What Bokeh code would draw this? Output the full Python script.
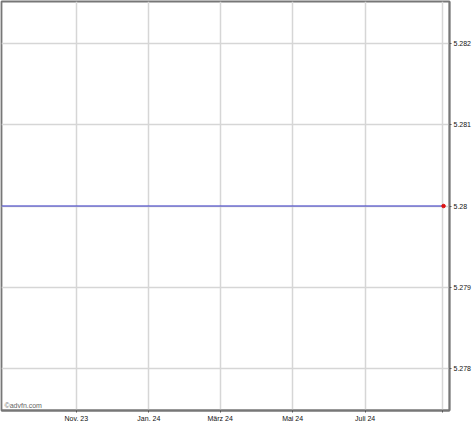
from datetime import datetime
from bokeh.plotting import figure
from bokeh.models import (Range1d, FixedTicker, LinearAxis, DatetimeAxis,
                          NumeralTickFormatter, Label, Grid)
from bokeh.embed import file_html
from bokeh.resources import INLINE

# ---- data ----
dates = ["2023-08-30", "2024-09-05"]
prices = [5.28, 5.28]
last_date = ["2024-09-05"]
last_price = [5.28]

x_tick_dates = ["2023-11-01", "2024-01-01", "2024-03-01", "2024-05-01",
                "2024-07-01", "2024-09-04"]
x_tick_labels = ["Nov. 23", "Jan. 24", "März 24", "Mai 24", "Juli 24", ""]
y_ticks = [5.278, 5.279, 5.28, 5.281, 5.282]


def ms(s):
    return int((datetime.strptime(s, "%Y-%m-%d") - datetime(1970, 1, 1)).total_seconds() * 1000)


xs = [datetime.strptime(d, "%Y-%m-%d") for d in dates]
lx = [datetime.strptime(d, "%Y-%m-%d") for d in last_date]
xticks = [ms(d) for d in x_tick_dates]

FONT = "Liberation Sans"

p = figure(width=474, height=424, output_backend="svg", toolbar_location=None,
           x_axis_type=None, y_axis_type=None,
           x_range=Range1d(datetime(2023, 8, 30), datetime(2024, 9, 10)),
           y_range=Range1d(5.27749, 5.28251),
           min_border_left=1, min_border_top=1, min_border_right=0, min_border_bottom=0)
p.background_fill_color = "white"
p.border_fill_color = "white"
p.outline_line_color = "#777777"
p.outline_line_width = 1.8

xaxis = DatetimeAxis(ticker=FixedTicker(ticks=xticks))
xaxis.major_label_overrides = {t: lab for t, lab in zip(xticks, x_tick_labels)}
xaxis.major_label_text_font = FONT
xaxis.major_label_text_font_size = "7px"
xaxis.major_label_text_color = "#111111"
xaxis.axis_line_color = "#777777"
xaxis.axis_line_width = 1.8
xaxis.major_tick_line_color = "#555555"
xaxis.major_tick_out = 2
xaxis.major_tick_in = 0
xaxis.minor_tick_line_color = None
xaxis.major_label_standoff = 2
p.add_layout(xaxis, "below")

yaxis = LinearAxis(ticker=FixedTicker(ticks=y_ticks),
                   formatter=NumeralTickFormatter(format="0.[000]"))
yaxis.major_label_text_font = FONT
yaxis.major_label_text_font_size = "7px"
yaxis.major_label_text_color = "#111111"
yaxis.axis_line_color = "#777777"
yaxis.axis_line_width = 1.8
yaxis.major_tick_line_color = "#555555"
yaxis.major_tick_out = 2
yaxis.major_tick_in = 0
yaxis.minor_tick_line_color = None
yaxis.major_label_standoff = 2
p.add_layout(yaxis, "right")

xgrid = Grid(dimension=0, ticker=FixedTicker(ticks=xticks),
             grid_line_color="#d6d6d6", grid_line_width=1.5)
ygrid = Grid(dimension=1, ticker=FixedTicker(ticks=y_ticks),
             grid_line_color="#d6d6d6", grid_line_width=1.5)
p.add_layout(xgrid)
p.add_layout(ygrid)

p.line(xs, prices, line_color="#3535c8", line_width=1.2)
p.scatter(lx, last_price, size=3.5, color="#dd1111")

p.add_layout(Label(x=3, y=2, x_units="screen", y_units="screen",
                   text="©advfn.com", text_font=FONT, text_font_size="7px",
                   text_color="#666666"))

open("out.html", "w").write(file_html(p, INLINE))
